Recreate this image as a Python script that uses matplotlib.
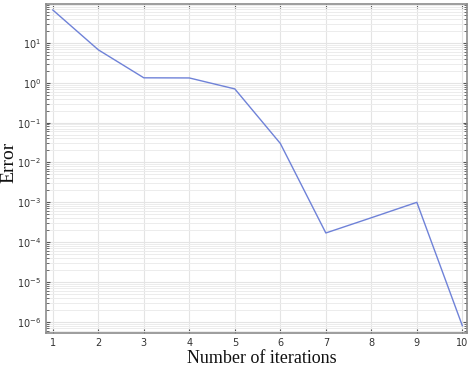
import matplotlib
matplotlib.use("Agg")
import matplotlib.pyplot as plt
import numpy as np
from matplotlib.ticker import LogLocator, NullFormatter

iterations = [1, 2, 3, 4, 5, 6, 7, 8, 9, 10]
errors = [67, 6.7, 1.33, 1.32, 0.70, 0.03, 1.7e-4, 4.1e-4, 1.0e-3, 8e-7]
xticks = [1, 2, 3, 4, 5, 6, 7, 8, 9, 10]

fig = plt.figure(figsize=(4.74, 3.74), dpi=100)
ax = fig.add_axes([0.097, 0.110, 0.888, 0.879])

ax.plot(iterations, errors, color="#6f82d8", lw=1.0)
ax.set_yscale("log")
ax.set_xlim(0.85, 10.1)
ax.set_ylim(5.3e-7, 94)
ax.set_xticks(xticks)
ax.yaxis.set_major_locator(LogLocator(base=10, numticks=20))
ax.yaxis.set_minor_locator(LogLocator(base=10, subs=np.arange(2, 10), numticks=20))
ax.yaxis.set_minor_formatter(NullFormatter())

ax.grid(True, which="major", color="#e4e4e4", lw=0.8)
ax.grid(True, which="minor", axis="y", color="#ececec", lw=0.7)
ax.set_axisbelow(True)

for s in ax.spines.values():
    s.set_color("#8c8c8c")
    s.set_linewidth(1.2)

ax.tick_params(which="both", direction="in", top=True, right=True, colors="#555555",
               labelcolor="#333333", labelsize=7)
ax.tick_params(which="major", length=3)
ax.tick_params(which="minor", length=2)

ax.set_xlabel("Number of iterations", family="Liberation Serif", fontsize=13, color="#111111")
ax.set_ylabel("Error", family="Liberation Serif", fontsize=14, color="#111111")
ax.xaxis.set_label_coords(0.513, -0.078)
ax.yaxis.set_label_coords(-0.088, 0.52)
ax.xaxis.label.set_verticalalignment("center")
ax.yaxis.label.set_verticalalignment("center")
ax.xaxis.offsetText.set_visible(False)
ax.yaxis.offsetText.set_visible(False)

fig.savefig("out.png", dpi=100)
